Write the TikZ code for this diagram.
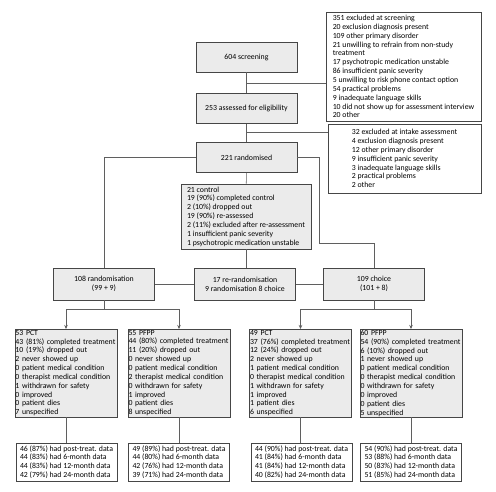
\documentclass[tikz,border=0pt]{standalone}
\usepackage{fontspec}
\setmainfont{Carlito}
\usepackage{xcolor}
\usepackage{tikz}
\usetikzlibrary{arrows.meta,positioning}
\definecolor{boxgray}{RGB}{235,235,235}
\definecolor{edgegray}{RGB}{70,70,70}
\definecolor{linegray}{RGB}{95,95,95}

\begin{document}
\begin{tikzpicture}[x=1pt, y=-1pt,
    every node/.style={font=\fontsize{7.8}{8.85}\selectfont},
    stage/.style={draw=edgegray, fill=boxgray, line width=0.6pt, minimum width=101pt, minimum height=30pt, align=center, inner sep=1pt},
    note/.style={draw=edgegray, fill=white, line width=0.6pt, align=left, inner sep=1pt},
    arm/.style={draw=edgegray, fill=boxgray, line width=0.6pt, text width=101pt, align=left, inner xsep=0.5pt, inner ysep=0.8pt, anchor=north},
    data/.style={draw=edgegray, fill=white, line width=0.6pt, minimum width=101pt, minimum height=38pt, align=left, inner sep=1pt},
    link/.style={draw=linegray, line width=0.6pt},
    arrow/.style={link, -{Stealth[length=4pt, width=3.5pt]}},
]
    \useasboundingbox (0,0) rectangle (496,491);

    % Enrolment column
    \node[stage] (screen) at (246.5,57)    {604 screening};
    \node[stage] (assess) at (246.5,108.5) {253 assessed for eligibility};
    \node[stage] (rand)   at (246.5,157.5) {221 randomised};

    % Exclusion boxes
    \node[note, minimum width=155pt, minimum height=109pt] (exclA) at (403.5,66.5) {
        351 excluded at screening \\
        20 exclusion diagnosis present \\
        109 other primary disorder \\
        21 unwilling to refrain from non-study \\
        treatment \\
        17 psychotropic medication unstable \\
        86 insufficient panic severity \\
        5 unwilling to risk phone contact option \\
        54 practical problems \\
        9 inadequate language skills \\
        10 did not show up for assessment interview \\
        20 other
    };
    \node[note, minimum width=153pt, minimum height=69pt] (exclB) at (404.5,158.5) {
        32 excluded at intake assessment \\
        4 exclusion diagnosis present \\
        12 other primary disorder \\
        9 insufficient panic severity \\
        3 inadequate language skills \\
        2 practical problems \\
        2 other
    };

    % Control arm
    \node[note, fill=boxgray, minimum width=130pt, minimum height=65pt] (ctrl) at (246,216.5) {
        21 control \\
        19 (90\%) completed control \\
        2 (10\%) dropped out \\
        19 (90\%) re-assessed \\
        2 (11\%) excluded after re-assessment \\
        1 insufficient panic severity \\
        1 psychotropic medication unstable
    };

    % Allocation row
    \node[stage, minimum height=32pt] (randA)  at (104,284) {108 randomisation \\ (99 + 9)};
    \node[stage, minimum height=32pt] (rerand) at (245,284) {17 re-randomisation \\ 9 randomisation 8 choice};
    \node[stage, minimum height=32pt] (choice) at (374,284) {109 choice \\ (101 + 8)};

    % Treatment arms
    \node[arm] (pctA) at (66,329) {
        53 PCT \\ 43 (81\%) completed treatment \\ 10 (19\%) dropped out \\
        2 never showed up \\ 0 patient medical condition \\ 0 therapist medical condition \\
        1 withdrawn for safety \\ 0 improved \\ 0 patient dies \\ 7 unspecified
    };
    \node[arm] (pfppA) at (179,329) {
        55 PFPP \\ 44 (80\%) completed treatment \\ 11 (20\%) dropped out \\
        0 never showed up \\ 0 patient medical condition \\ 2 therapist medical condition \\
        0 withdrawn for safety \\ 1 improved \\ 0 patient dies \\ 8 unspecified
    };
    \node[arm] (pctB) at (300.5,329) {
        49 PCT \\ 37 (76\%) completed treatment \\ 12 (24\%) dropped out \\
        2 never showed up \\ 1 patient medical condition \\ 0 therapist medical condition \\
        1 withdrawn for safety \\ 1 improved \\ 1 patient dies \\ 6 unspecified
    };
    \node[arm] (pfppB) at (411,329) {
        60 PFPP \\ 54 (90\%) completed treatment \\ 6 (10\%) dropped out \\
        1 never showed up \\ 0 patient medical condition \\ 0 therapist medical condition \\
        0 withdrawn for safety \\ 0 improved \\ 0 patient dies \\ 5 unspecified
    };

    % Follow-up data
    \node[data] (dataA) at (66.5,462) {
        46 (87\%) had post-treat. data \\ 44 (83\%) had 6-month data \\
        44 (83\%) had 12-month data \\ 42 (79\%) had 24-month data
    };
    \node[data] (dataB) at (179,462) {
        49 (89\%) had post-treat. data \\ 44 (80\%) had 6-month data \\
        42 (76\%) had 12-month data \\ 39 (71\%) had 24-month data
    };
    \node[data] (dataC) at (301.5,462) {
        44 (90\%) had post-treat. data \\ 41 (84\%) had 6-month data \\
        41 (84\%) had 12-month data \\ 40 (82\%) had 24-month data
    };
    \node[data] (dataD) at (411,462) {
        54 (90\%) had post-treat. data \\ 53 (88\%) had 6-month data \\
        50 (83\%) had 12-month data \\ 51 (85\%) had 24-month data
    };

    % Connectors
    \coordinate (jA) at (246.5,83);
    \coordinate (jB) at (246.5,132);
    \coordinate (bendR) at (319,243);
    \draw[link] (screen) -- (assess);
    \draw[link] (assess) -- (rand);
    \draw[link] (jA) -- (jA -| exclA.west);
    \draw[link] (jB) -- (jB -| exclB.west);
    \draw[link] (rand) -- (ctrl);
    \draw[link] (ctrl.south) -- (ctrl.south |- rerand.north);
    \draw[link] (rand.west) -| (randA.north);
    \draw[link] (rand.east) -| (bendR) -| (choice.north);
    \draw[link] (randA) -- (rerand);
    \draw[link] (rerand) -- (choice);

    \draw[arrow] (randA.south) -- ++(0,9) -| (pctA.north);
    \draw[arrow] (randA.south) -- ++(0,9) -| (pfppA.north);
    \draw[arrow] (choice.south) -- ++(0,9) -| (pctB.north);
    \draw[arrow] (choice.south) -- ++(0,9) -| (pfppB.north);

    \foreach \a/\b in {pctA/dataA, pfppA/dataB, pctB/dataC, pfppB/dataD} {
        \draw[link] (\a.south) -- (\a.south |- \b.north);
    }
\end{tikzpicture}
\end{document}
